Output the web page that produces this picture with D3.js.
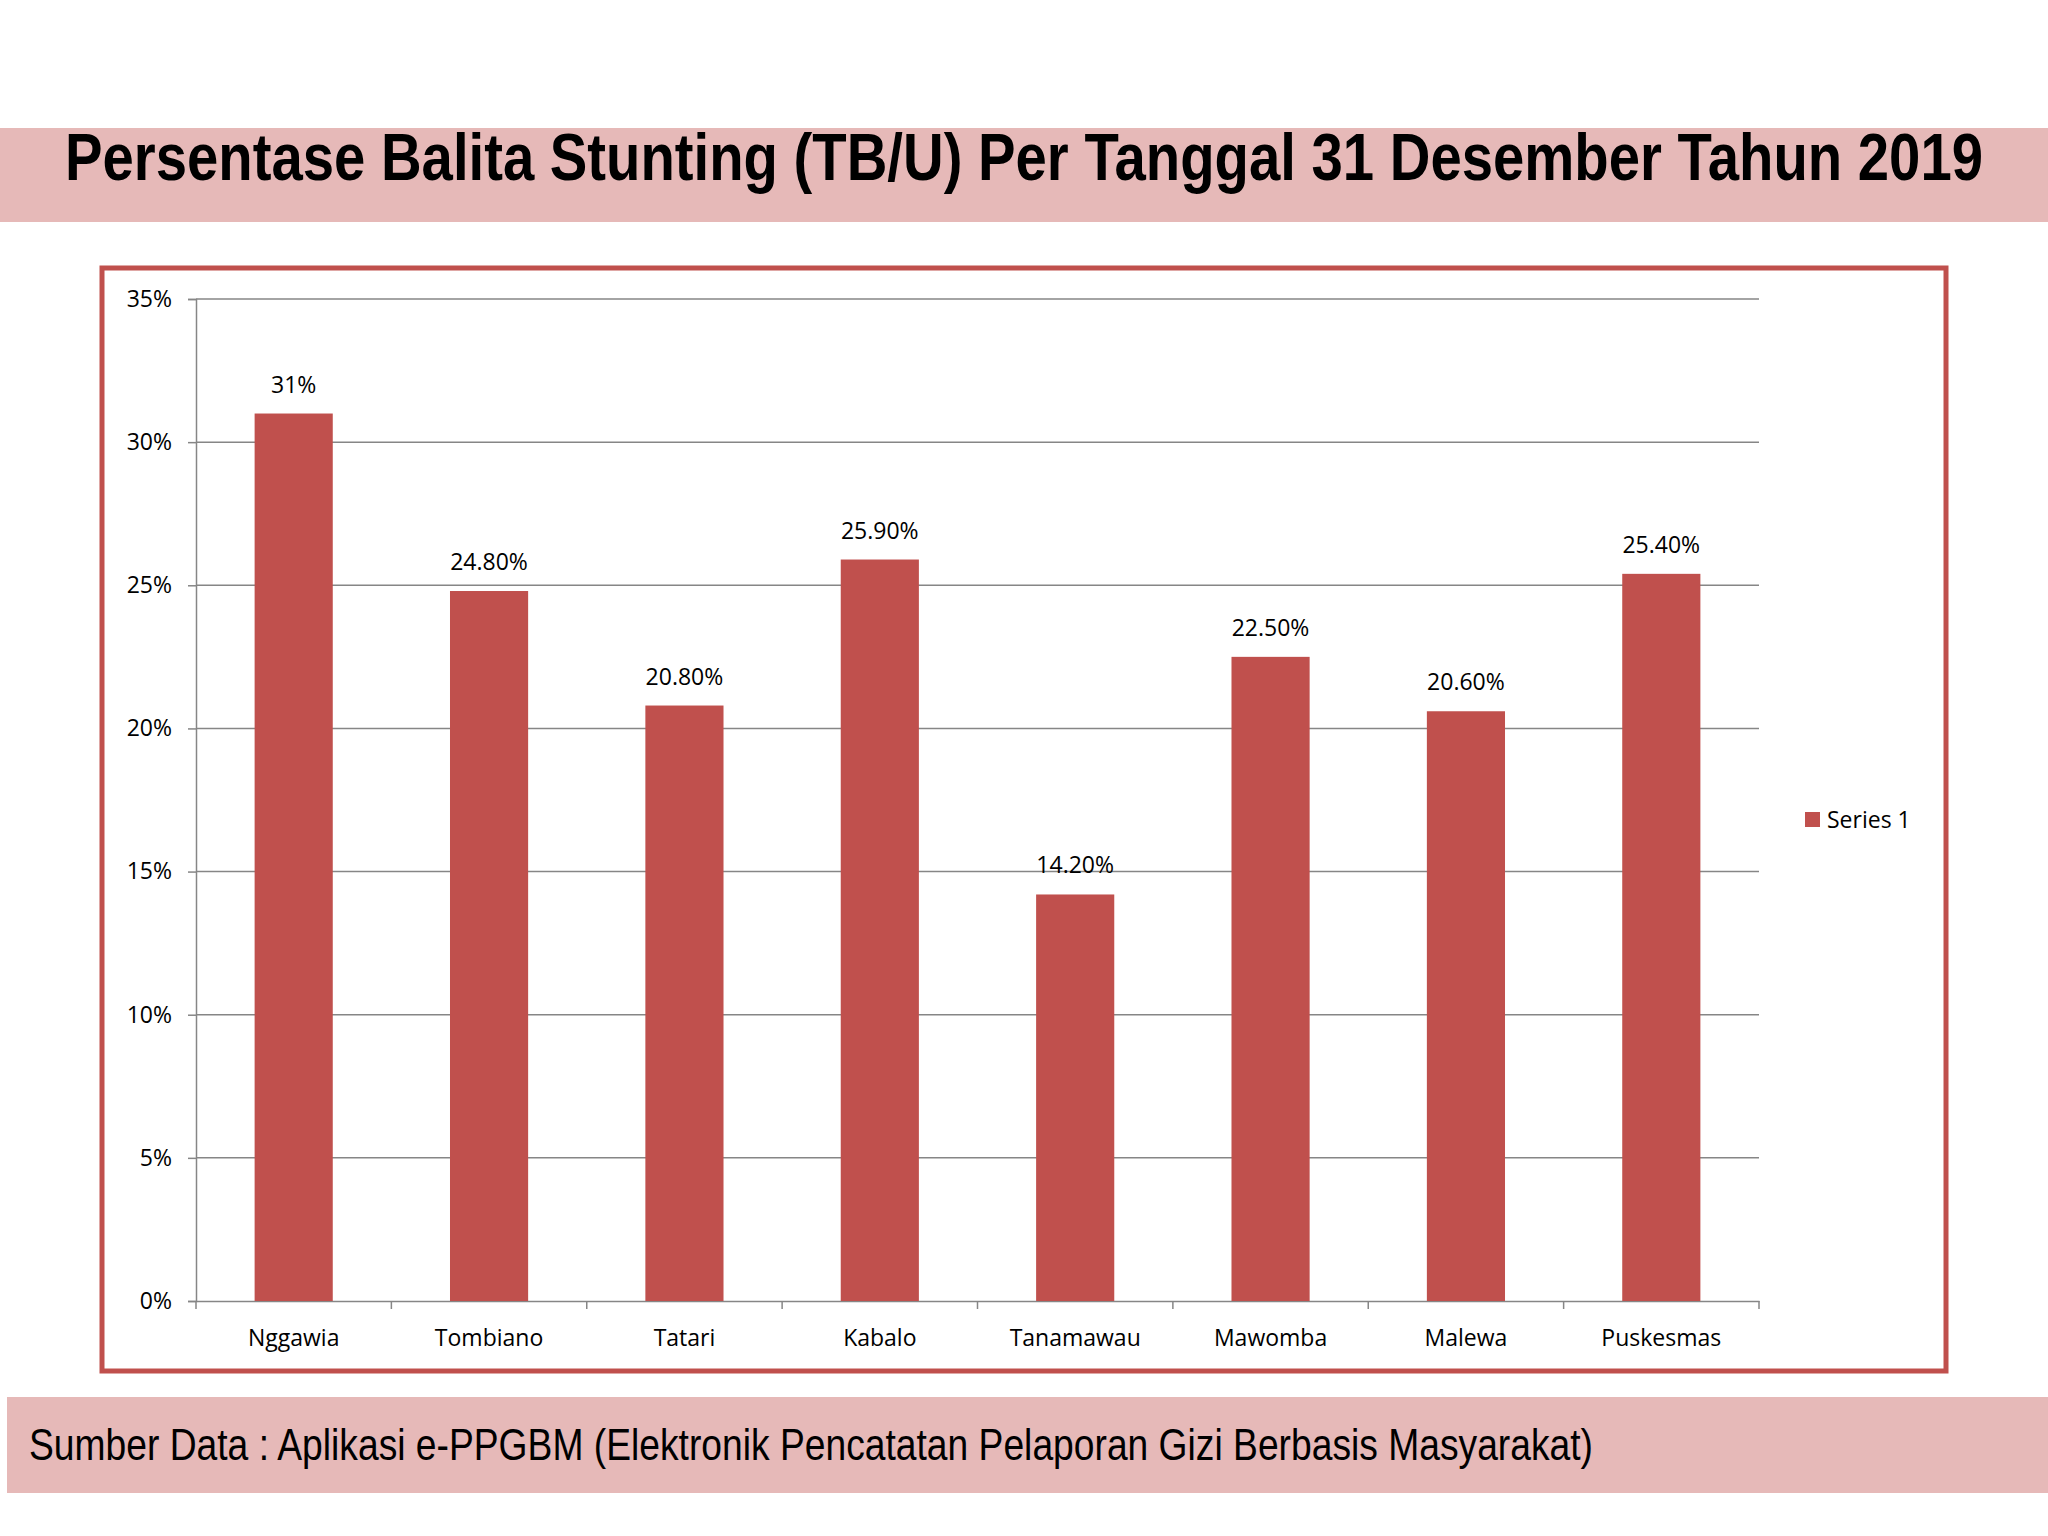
<!DOCTYPE html>
<html><head><meta charset="utf-8">
<script src="https://cdn.jsdelivr.net/npm/d3@7"></script>
<style>body{margin:0;background:#fff}svg{display:block}</style>
</head><body><div id="chart"></div>
<script>
const categories = ["Nggawia", "Tombiano", "Tatari", "Kabalo", "Tanamawau", "Mawomba", "Malewa", "Puskesmas"];
const values = [31, 24.8, 20.8, 25.9, 14.2, 22.5, 20.6, 25.4];
const valueLabels = ["31%", "24.80%", "20.80%", "25.90%", "14.20%", "22.50%", "20.60%", "25.40%"];
const yTicks = [0, 5, 10, 15, 20, 25, 30, 35];

const W = 2048, H = 1536;
const svg = d3.select("#chart").append("svg").attr("width", W).attr("height", H);
const pink = "#e6b9b8", red = "#c0504d";
const font = "'Open Sans', sans-serif";

// title band
svg.append("rect").attr("x", 0).attr("y", 128).attr("width", W).attr("height", 94).attr("fill", pink);
svg.append("text").attr("x", 65).attr("y", 180)
    .attr("textLength", 1918).attr("lengthAdjust", "spacingAndGlyphs")
    .attr("font-family", "'Liberation Sans', sans-serif").attr("font-weight", "bold")
    .attr("font-size", 66).attr("fill", "#000")
    .text("Persentase Balita Stunting (TB/U) Per Tanggal 31 Desember Tahun 2019");

// chart frame
svg.append("rect").attr("x", 102).attr("y", 268).attr("width", 1844).attr("height", 1103)
    .attr("fill", "#fff").attr("stroke", red).attr("stroke-width", 5);

const x = d3.scaleBand().domain(categories).range([196, 1759]).paddingInner(0.6).paddingOuter(0.3);
const y = d3.scaleLinear().domain([0, 35]).range([1301, 299]);

// gridlines
svg.append("g").selectAll("line").data(yTicks.slice(1)).enter().append("line")
    .attr("x1", 196).attr("x2", 1759).attr("y1", d => y(d)).attr("y2", d => y(d))
    .attr("stroke", "#868686").attr("stroke-width", 1.5);

const band = d3.scaleBand().domain(categories).range([196, 1759]);
const yAxis = svg.append("g").attr("transform", "translate(196,0)")
    .call(d3.axisLeft(y).tickValues(yTicks).tickFormat(d => d + "%").tickSize(8).tickPadding(16));
const xAxis = svg.append("g").attr("transform", "translate(0,1301)")
    .call(d3.axisBottom(band).tickSize(0).tickPadding(29));
// x tick marks at category boundaries
svg.append("g").selectAll("line").data(d3.range(categories.length + 1)).enter().append("line")
    .attr("x1", i => 196 + i * band.step()).attr("x2", i => 196 + i * band.step())
    .attr("y1", 1301).attr("y2", 1309).attr("stroke", "#868686").attr("stroke-width", 1.5);
[yAxis, xAxis].forEach(a => {
    a.select(".domain").attr("stroke", "#868686").attr("stroke-width", 1.5);
    a.selectAll(".tick line").attr("stroke", "#868686").attr("stroke-width", 1.5);
    a.selectAll("text").attr("font-family", font).attr("font-size", 23).attr("fill", "#000");
});

// bars
svg.append("g").selectAll("rect").data(values).enter().append("rect")
    .attr("x", (d, i) => x(categories[i])).attr("width", x.bandwidth())
    .attr("y", d => y(d)).attr("height", d => y(0) - y(d)).attr("fill", red);
svg.append("g").selectAll("text").data(values).enter().append("text")
    .attr("x", (d, i) => x(categories[i]) + x.bandwidth() / 2).attr("y", d => y(d) - 21)
    .attr("text-anchor", "middle").attr("font-family", font).attr("font-size", 23)
    .text((d, i) => valueLabels[i]);

// legend
svg.append("rect").attr("x", 1805).attr("y", 812).attr("width", 15).attr("height", 15).attr("fill", red);
svg.append("text").attr("x", 1827).attr("y", 828).attr("font-family", font).attr("font-size", 23).text("Series 1");

// footer band
svg.append("rect").attr("x", 7).attr("y", 1397).attr("width", W - 7).attr("height", 96).attr("fill", pink);
svg.append("text").attr("x", 29).attr("y", 1460)
    .attr("textLength", 1564).attr("lengthAdjust", "spacingAndGlyphs")
    .attr("font-family", "'Liberation Sans', sans-serif")
    .attr("font-size", 44).attr("fill", "#000")
    .text("Sumber Data : Aplikasi e-PPGBM (Elektronik Pencatatan Pelaporan Gizi Berbasis Masyarakat)");
</script>
</body></html>
